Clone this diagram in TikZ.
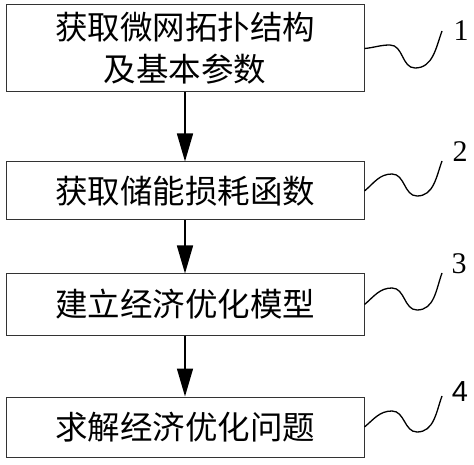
\documentclass[tikz,border=0pt]{standalone}
\usepackage{fontspec}
\newfontfamily\cjk{Noto Sans CJK SC}
\newfontfamily\numserif{Liberation Serif}
\newfontfamily\numsans{Liberation Sans}
\usetikzlibrary{arrows.meta}
\begin{document}
\begin{tikzpicture}[x=1pt,y=1pt,
  stepbox/.style={draw=black!80, line width=1pt, minimum width=358pt, inner sep=0pt,
     align=center, font=\cjk\fontsize{32.5}{42}\selectfont},
  flow/.style={line width=1.5pt, -{Triangle[length=28pt,width=16pt]}},
  wave/.style={line width=1.3pt},
  numlbl/.style={inner sep=0pt}]
\useasboundingbox (0,0) rectangle (474,464);
\fill[white] (0,0) rectangle (474,464);
\node[stepbox, minimum height=87pt] (b1) at (185,415.5) {获取微网拓扑结构\\及基本参数};
\node[stepbox, minimum height=58pt] (b2) at (185,273) {获取储能损耗函数};
\node[stepbox, minimum height=61pt] (b3) at (185,159.5) {建立经济优化模型};
\node[stepbox, minimum height=60pt] (b4) at (185,37) {求解经济优化问题};
\draw[flow] (b1.south) -- (b2.north);
\draw[flow] (b2.south) -- (b3.north);
\draw[flow] (b3.south) -- (b4.north);
\coordinate (e1) at (442,433);
\coordinate (e2) at (442,303);
\coordinate (e3) at (442,191);
\coordinate (e4) at (442,68);
\draw[wave] (b1.east) to[out=5,in=180] (390,419) to[out=0,in=180] (415,396) to[out=0,in=250] (e1);
\draw[wave] (b2.east) to[out=40,in=180] (392,290) to[out=0,in=180] (417,268) to[out=0,in=250] (e2);
\draw[wave] (b3.east) to[out=40,in=180] (392,176) to[out=0,in=180] (417,154) to[out=0,in=250] (e3);
\draw[wave] (b4.east) to[out=40,in=180] (392,53) to[out=0,in=180] (417,32) to[out=0,in=250] (e4);
\node[numlbl, font=\numserif\fontsize{30}{30}\selectfont] (n1) at (461,433) {1};
\node[numlbl, font=\numserif\fontsize{30}{30}\selectfont] (n2) at (460,312) {2};
\node[numlbl, font=\numserif\fontsize{30}{30}\selectfont] (n3) at (459,200) {3};
\node[numlbl, font=\numsans\fontsize{29}{29}\selectfont] (n4) at (460,72) {4};
\end{tikzpicture}
\end{document}
